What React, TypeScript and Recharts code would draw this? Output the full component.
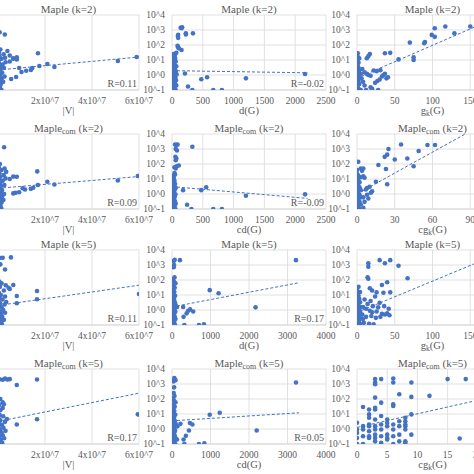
import React from "react";
import { ScatterChart, Scatter, XAxis, YAxis, CartesianGrid, ReferenceLine } from "recharts";

const BLUE = "#4472C4";
const GRID = "#d9d9d9";
const TEXT = "#595959";
const FONT = "'Liberation Serif', 'DejaVu Serif', serif";

type Pt = [number, number];

// shared log y axis
const LOG_TICKS = [0.1, 1, 10, 100, 1000, 10000];
const LOG_LABELS: Record<number, string> = {
  0.1: "10^-1",
  1: "10^0",
  10: "10^1",
  100: "10^2",
  1000: "10^3",
  10000: "10^4",
};

// x ticks (the 0 of |V| sits on the cropped edge)
const V_TICKS = [0, 2e7, 4e7, 6e7];
const V_LABELS: Record<number, string> = { 0: "", 2e7: "2x10^7", 4e7: "4x10^7", 6e7: "6x10^7" };
const D_TICKS_K2 = [0, 500, 1000, 1500, 2000, 2500];
const D_TICKS_K5 = [0, 1000, 2000, 3000, 4000];
const G_TICKS = [0, 50, 100, 150, 200];
const CG_TICKS_K2 = [0, 30, 60, 90, 120];
const CG_TICKS_K5 = [0, 5, 10, 15, 20, 25];

// ---- Maple (k=2) ----
const mapleK2V: Pt[] = [
  [1e5, 0.1], [6e5, 0.1], [1.5e6, 0.1], [3e5, 0.13], [9e5, 0.16], [2e5, 0.2], [1.2e6, 0.25], [5e5, 0.3],
  [2.2e6, 0.35], [8e5, 0.45], [1e5, 0.55], [1.6e6, 0.6], [4e5, 0.75], [2.8e6, 0.8], [1e6, 1], [2e5, 1.2],
  [1.8e6, 1.4], [6e5, 1.7], [3e5, 2.2], [1.3e6, 2.6], [2.5e6, 3], [7e5, 3.5], [1e5, 4.5], [1.9e6, 5],
  [4e5, 6], [3.2e6, 7], [2e5, 9], [1.5e6, 12], [3e6, 14], [6e5, 18], [2.4e6, 24], [4e5, 30], [5e6, 20],
  [6.5e6, 12], [8e6, 15], [4e6, 40], [1e6, 50], [7e5, 700], [2.9e6, 500], [6.5e6, 13], [8e6, 11], [5e6, 8],
  [1.7e7, 28], [1.46e7, 2.9], [1.4e7, 2.15], [1.2e7, 1.9], [1e7, 1.6], [9e6, 2.9], [1.76e7, 4],
  [2.1e7, 5.4], [2.4e7, 3.4], [7.7e6, 0.74], [5.6e6, 0.54], [5.1e7, 8.5], [5.9e7, 16],
];
const mapleK2D: Pt[] = [
  [5, 0.1], [30, 0.1], [60, 0.1], [15, 0.12], [45, 0.14], [10, 0.17], [70, 0.2], [25, 0.22], [50, 0.27],
  [5, 0.32], [35, 0.4], [65, 0.45], [20, 0.55], [55, 0.65], [10, 0.8], [40, 0.9], [75, 1.1], [25, 1.3],
  [5, 1.6], [60, 1.8], [30, 2.2], [15, 2.7], [50, 3.2], [70, 3.8], [20, 4.5], [40, 5.5], [10, 7], [60, 8],
  [30, 10], [50, 13], [15, 16], [45, 20], [25, 25], [70, 30], [155, 1300], [165, 1500], [140, 1400],
  [100, 470], [95, 400], [100, 300], [225, 600], [225, 500], [340, 600], [155, 46], [100, 70], [110, 60],
  [90, 90], [210, 1.27], [260, 0.17], [330, 0.1], [475, 0.52], [570, 0.7], [670, 0.1], [810, 0.1],
  [1200, 0.6], [2160, 1.17],
];
const mapleK2G: Pt[] = [
  [0, 0.1], [1, 0.1], [2, 0.12], [0, 0.15], [1, 0.2], [3, 0.25], [0, 0.3], [2, 0.4], [1, 0.5], [0, 0.6],
  [3, 0.7], [1, 0.9], [2, 1.1], [0, 1.3], [1, 1.7], [3, 2], [0, 2.5], [2, 3], [1, 4], [0, 5], [2, 6.5],
  [1, 8], [0, 10], [3, 13], [1, 16], [0, 20], [1, 28], [13, 13], [17, 25], [15, 18], [37, 28], [44, 30],
  [10, 1.5], [13, 1.2], [15, 1.0], [18, 0.9], [22, 2], [26, 1.8], [31, 2.1], [33, 0.8], [35, 1], [37, 1.2],
  [39, 0.6], [41, 0.7], [10, 0.2], [18, 0.15], [24, 0.3], [27, 0.4], [30, 0.5], [8, 0.35], [6, 0.6],
  [5, 1.2], [7, 2.5], [5, 0.1], [12, 0.1], [20, 0.12], [28, 0.1], [55, 11], [70, 145], [75, 10], [75, 15],
  [90, 160], [89, 130], [99, 470], [103, 350], [103, 1300], [117, 1700], [129, 600], [150, 1700],
];

// ---- Maple_com (k=2) ----
const comK2V: Pt[] = [
  [1e5, 0.1], [7e5, 0.1], [1.4e6, 0.11], [3e5, 0.13], [1e6, 0.17], [2e5, 0.22], [1.5e6, 0.27], [5e5, 0.33],
  [2.3e6, 0.4], [9e5, 0.5], [1e5, 0.6], [1.8e6, 0.7], [4e5, 0.85], [2.6e6, 1], [1.1e6, 1.2], [2e5, 1.5],
  [1.7e6, 1.8], [6e5, 2.2], [3e5, 2.8], [1.3e6, 3.4], [2.7e6, 4], [8e5, 5], [1e5, 6], [2e6, 7.5], [5e5, 9],
  [3.2e6, 11], [1e6, 14], [2.4e6, 18], [6e5, 24], [3.5e6, 30], [1.5e6, 40], [4e5, 55], [2.8e6, 50],
  [8e5, 100], [2.6e6, 1300], [6.5e6, 14.5], [8e6, 14], [5e6, 10], [1.67e7, 32], [1.4e7, 2.2], [1.5e7, 2.6],
  [1.15e7, 2], [1.05e7, 2.4], [9e6, 1.3], [7.5e6, 1.2], [6.5e6, 1.1], [2.1e7, 6.6], [2.4e7, 4.3],
  [1.7e7, 4], [5.1e7, 7.9], [5.95e7, 16],
];
const comK2D: Pt[] = [
  [5, 0.1], [25, 0.1], [55, 0.1], [10, 0.12], [40, 0.15], [15, 0.18], [60, 0.22], [30, 0.26], [50, 0.3],
  [5, 0.36], [35, 0.45], [20, 0.55], [45, 0.65], [10, 0.8], [55, 0.95], [25, 1.1], [5, 1.4], [40, 1.7],
  [15, 2.1], [60, 2.5], [30, 3], [10, 3.8], [50, 4.6], [20, 6], [40, 7.5], [5, 9], [30, 12], [15, 16],
  [50, 20], [50, 2000], [90, 2000], [70, 1800], [60, 1000], [80, 800], [55, 300], [70, 230], [60, 180],
  [330, 1400], [40, 60], [60, 50], [75, 70], [110, 80], [40, 25], [180, 1.8], [475, 1.8], [555, 2.8],
  [1200, 0.77], [2160, 0.95], [245, 0.19], [315, 0.1], [670, 0.1], [810, 0.1],
];
const comK2CG: Pt[] = [
  [0, 0.1], [1, 0.1], [2, 0.1], [0, 0.13], [1, 0.16], [3, 0.2], [0, 0.25], [2, 0.3], [1, 0.4], [0, 0.5],
  [3, 0.6], [1, 0.75], [2, 0.9], [0, 1.1], [1, 1.4], [3, 1.8], [0, 2.2], [2, 2.8], [1, 3.5], [0, 4.5],
  [2, 6], [1, 8], [0, 10], [3, 13], [1, 17], [0, 22], [1, 140], [3, 50], [5, 50], [4, 35], [0, 40],
  [5, 15], [6, 12], [8, 2.5], [7, 2], [10, 3], [15, 6.6], [12, 1.5], [11, 1.2], [8, 0.9], [5, 0.6],
  [5, 0.12], [6, 0.3], [9, 0.5], [17, 85], [23, 46], [22, 300], [24, 420], [25, 1000], [24, 4.5],
  [35, 2000], [30, 200], [40, 230], [45, 70], [49, 740], [56, 1860], [62, 1860],
];

// ---- Maple (k=5) ----
const mapleK5V: Pt[] = [
  [1e5, 0.1], [8e5, 0.1], [1.6e6, 0.12], [3e5, 0.14], [1.1e6, 0.18], [2.5e6, 0.22], [5e5, 0.28],
  [1.8e6, 0.35], [2e5, 0.45], [1.3e6, 0.55], [3e6, 0.65], [7e5, 0.8], [2.2e6, 1], [1e5, 1.2], [1.5e6, 1.5],
  [4e5, 1.9], [2.8e6, 2.3], [9e5, 2.8], [3.5e6, 3.4], [2e5, 4.2], [1.9e6, 5], [6e5, 6.5], [3e6, 8],
  [1.2e6, 10], [4e5, 14], [2.5e6, 20], [5e6, 25], [8e5, 35], [3.3e6, 45], [1.5e6, 60], [5e5, 80],
  [7e5, 3000], [2e6, 3000], [5.5e6, 3200], [1e6, 1100], [3e6, 500], [1.66e7, 18.5], [1.66e7, 5.2],
  [8e6, 8.5], [8e6, 2.8], [6e7, 11.7], [6.5e6, 46], [4.5e6, 30],
];
const mapleK5D: Pt[] = [
  [5, 0.1], [40, 0.1], [80, 0.1], [20, 0.13], [60, 0.16], [10, 0.2], [90, 0.25], [35, 0.3], [70, 0.38],
  [15, 0.48], [50, 0.6], [85, 0.75], [25, 0.9], [65, 1.1], [5, 1.4], [45, 1.7], [95, 2.1], [30, 2.6],
  [75, 3.3], [10, 4.2], [55, 5.5], [20, 7], [80, 9], [40, 12], [60, 16], [15, 22], [70, 30], [35, 45],
  [90, 60], [50, 80], [25, 110], [65, 150], [45, 700], [55, 1000], [40, 1800], [70, 2200], [206, 2100],
  [3220, 2100], [980, 21], [1210, 13], [2170, 1.5], [130, 1.6], [290, 1.6], [420, 0.9], [300, 0.35],
  [380, 0.6], [470, 1.1], [550, 0.8], [320, 0.1], [700, 0.1], [830, 0.11],
];
const mapleK5G: Pt[] = [
  [0, 0.1], [2, 0.1], [4, 0.12], [1, 0.15], [3, 0.2], [0, 0.25], [5, 0.3], [2, 0.4], [1, 0.5], [4, 0.65],
  [0, 0.8], [3, 1], [1, 1.3], [5, 1.6], [2, 2], [0, 2.6], [4, 3.3], [1, 4.2], [3, 5.5], [0, 7], [2, 9],
  [1, 12], [4, 16], [0, 22], [2, 35], [15, 1300], [15, 770], [14, 150], [15, 120], [17, 28], [20, 20],
  [24, 8], [30, 2100], [37, 1300], [44, 2100], [55, 900], [67, 130], [33, 46], [40, 70], [26, 15],
  [35, 14], [44, 15], [8, 1.6], [12, 1.2], [17, 0.9], [20, 0.7], [26, 0.8], [33, 0.55], [40, 0.6],
  [7, 0.5], [12, 0.35], [19, 0.4], [25, 0.3], [31, 0.35], [37, 0.5], [43, 0.45], [9, 0.14], [16, 0.12],
  [22, 0.11], [14, 2.5], [21, 1.8], [28, 1.5], [36, 1.8], [42, 1.2], [10, 5], [18, 4], [30, 3],
  [8, 0.25], [4, 0.8],
];

// ---- Maple_com (k=5) ----
const comK5V: Pt[] = [
  [7e5, 2100], [2e6, 1900], [4e6, 2000], [3e6, 2300], [5e6, 2100], [8e6, 850], [1.66e7, 2000],
  [1e6, 100], [2e6, 60], [5e5, 40], [2.5e6, 45], [2e6, 25], [1e6, 18], [1e5, 0.1], [9e5, 0.1],
  [1.8e6, 0.12], [4e5, 0.15], [1.2e6, 0.19], [2.6e6, 0.24], [6e5, 0.3], [2e6, 0.38], [2e5, 0.48],
  [1.5e6, 0.6], [3.2e6, 0.75], [8e5, 0.95], [2.3e6, 1.2], [1e5, 1.5], [1.7e6, 1.9], [4e5, 2.4], [3e6, 3],
  [1e6, 3.8], [3.8e6, 4.6], [2e5, 5.5], [2.2e6, 7], [7e5, 9], [8e6, 2], [1.66e7, 4.5], [5.95e7, 9.5],
];
const comK5D: Pt[] = [
  [5, 0.1], [45, 0.1], [85, 0.1], [20, 0.13], [65, 0.16], [10, 0.2], [90, 0.25], [35, 0.3], [70, 0.38],
  [15, 0.48], [55, 0.6], [80, 0.75], [25, 0.9], [60, 1.1], [5, 1.4], [45, 1.7], [95, 2.2], [30, 2.7],
  [75, 3.4], [10, 4.3], [55, 5.6], [20, 7], [85, 9], [40, 12], [60, 16], [15, 22], [70, 30], [35, 45],
  [90, 60], [50, 80], [25, 110], [65, 160], [45, 250], [55, 600], [40, 1500], [70, 2000], [60, 2500],
  [90, 1800], [3220, 1260], [980, 9], [1240, 12], [2200, 0.8], [465, 2.5], [530, 2], [440, 0.8],
  [360, 0.35], [300, 0.2], [130, 0.2], [320, 0.1], [700, 0.1], [840, 0.11], [220, 2.2], [140, 1.5],
];
const comK5CG: Pt[] = [
  [0, 2.6], [0, 0.92], [0, 0.55], [0, 0.25], [0, 0.1],
  [1, 29], [1, 1.55], [1, 0.92], [1, 0.33], [1, 0.1],
  [2, 20], [2, 9.4], [2, 5.6], [2, 2.0], [2, 1.55], [2, 0.71], [2, 0.33], [2, 0.25],
  [3, 2120], [3, 1260], [3, 980], [3, 124], [3, 26], [3, 20], [3, 4.3], [3, 1.55], [3, 0.92], [3, 0.42],
  [3, 0.25], [3, 0.15],
  [4, 2120], [4, 57], [4, 7.3], [4, 2.0], [4, 0.92], [4, 0.33], [4, 0.12],
  [5, 4.3], [5, 2.6], [5, 1.55], [5, 0.42], [5, 0.25], [5, 0.2],
  [6, 2350], [6, 1260], [6, 45], [6, 34], [6, 2.0], [6, 0.92], [6, 0.33], [6, 0.1],
  [7, 209], [7, 3.3], [7, 1.55], [7, 0.42], [7, 0.15],
  [8, 5.6], [8, 3.3], [8, 2.0], [8, 1.55], [8, 0.92], [8, 0.15], [8, 0.12],
  [9, 1260], [9, 138], [9, 9.4], [9, 0.42],
  [12, 162], [15, 2120], [17, 0.23], [18, 2120],
];

// trend line end points [x0, y0, x1, y1]
const trends: Record<string, number[]> = {
  mapleK2V: [0, 2.15, 6e7, 15.8],
  mapleK2D: [0, 1.95, 2200, 1.4],
  mapleK2G: [0, 0.62, 160, 1950],
  comK2V: [0, 2.4, 6e7, 14.6],
  comK2D: [0, 3.1, 2200, 0.51],
  comK2CG: [0, 1, 86, 10000],
  mapleK5V: [0, 2, 6e7, 45],
  mapleK5D: [0, 1.6, 3300, 66],
  mapleK5G: [0, 0.69, 160, 1500],
  comK5V: [0, 3.2, 6e7, 245],
  comK5D: [0, 3.5, 3300, 12],
  comK5CG: [0, 1.27, 20, 83],
};

const rLabels: Record<string, string> = {
  mapleK2V: "R=0.11",
  mapleK2D: "R=-0.02",
  comK2V: "R=0.09",
  comK2D: "R=-0.09",
  mapleK5V: "R=0.11",
  mapleK5D: "R=0.17",
  comK5V: "R=0.17",
  comK5D: "R=0.05",
};

// layout
const ROW_TOPS = [15, 134, 250, 369];
const PLOT_H = 75;
const COLS = [
  { left: -2, w: 141 },
  { left: 172, w: 154 },
  { left: 357, w: 151 },
];
const YW = 40;
const MT = 4;
const MR = 18;
const XH = 22;

const Dot = (props: any) => <circle cx={props.cx} cy={props.cy} r={2.3} fill={BLUE} />;

function CenterText({ cx, cy, size, children }: any) {
  return (
    <div
      style={{
        position: "absolute",
        left: cx - 100,
        top: cy - 7,
        width: 200,
        height: 14,
        lineHeight: "14px",
        textAlign: "center",
        fontSize: size,
        color: TEXT,
        whiteSpace: "nowrap",
      }}
    >
      {children}
    </div>
  );
}

function Panel({ row, col, name, points, ticks, labels, title, xLabel }: any) {
  const top = ROW_TOPS[row];
  const { left, w } = COLS[col];
  const t = trends[name];
  const data = points.map(([x, y]: Pt) => ({ x, y }));
  const cx = left + w / 2;
  const r = rLabels[name];
  // the first column's y labels lie outside the cropped picture
  const yTick = col === 0 ? false : { fill: TEXT, fontSize: 9.5, fontFamily: FONT };
  return (
    <>
      <div style={{ position: "absolute", left: left - YW, top: top - MT }}>
        <ScatterChart width={YW + w + MR} height={MT + PLOT_H + XH} margin={{ top: MT, right: MR, left: 0, bottom: 0 }}>
          <CartesianGrid stroke={GRID} strokeWidth={0.8} />
          <XAxis
            type="number"
            dataKey="x"
            domain={[ticks[0], ticks[ticks.length - 1]]}
            ticks={ticks}
            interval={0}
            allowDataOverflow
            height={XH}
            axisLine={{ stroke: GRID }}
            tickLine={false}
            tickSize={5}
            tickFormatter={(v: number) => (labels ? labels[v] : String(v))}
            tick={{ fill: TEXT, fontSize: 9.5, fontFamily: FONT }}
          />
          <YAxis
            type="number"
            dataKey="y"
            scale="log"
            domain={[0.1, 10000]}
            ticks={LOG_TICKS}
            interval={0}
            allowDataOverflow
            width={YW}
            axisLine={false}
            tickLine={false}
            tickSize={5}
            tickFormatter={(v: number) => LOG_LABELS[v] ?? String(v)}
            tick={yTick}
          />
          <Scatter data={data} shape={Dot} fill={BLUE} isAnimationActive={false} />
          <ReferenceLine
            segment={[{ x: t[0], y: t[1] }, { x: t[2], y: t[3] }]}
            stroke={BLUE}
            strokeWidth={1}
            strokeDasharray="3 2"
            ifOverflow="hidden"
          />
        </ScatterChart>
      </div>
      <CenterText cx={cx} cy={top - 6} size={11}>{title}</CenterText>
      <CenterText cx={cx} cy={top + PLOT_H + 21} size={10.5}>{xLabel}</CenterText>
      {r && (
        <div
          style={{
            position: "absolute",
            left: left + w - 102,
            top: top + PLOT_H - 13,
            width: 100,
            textAlign: "right",
            fontSize: 10,
            lineHeight: "14px",
            color: TEXT,
          }}
        >
          {r}
        </div>
      )}
    </>
  );
}

const sub = (s: string) => <sub style={{ fontSize: "0.72em", verticalAlign: "-0.25em" }}>{s}</sub>;

export default function App() {
  const mk2 = <>Maple (k=2)</>;
  const ck2 = <>Maple{sub("com")} (k=2)</>;
  const mk5 = <>Maple (k=5)</>;
  const ck5 = <>Maple{sub("com")} (k=5)</>;
  return (
    <div
      style={{
        position: "fixed",
        left: 0,
        top: 0,
        width: 474,
        height: 474,
        overflow: "hidden",
        background: "#fff",
        fontFamily: FONT,
      }}
    >
      <Panel row={0} col={0} name="mapleK2V" points={mapleK2V} ticks={V_TICKS} labels={V_LABELS} title={mk2} xLabel="|V|" />
      <Panel row={0} col={1} name="mapleK2D" points={mapleK2D} ticks={D_TICKS_K2} title={mk2} xLabel="d(G)" />
      <Panel row={0} col={2} name="mapleK2G" points={mapleK2G} ticks={G_TICKS} title={mk2} xLabel={<>g{sub("k")}(G)</>} />
      <Panel row={1} col={0} name="comK2V" points={comK2V} ticks={V_TICKS} labels={V_LABELS} title={ck2} xLabel="|V|" />
      <Panel row={1} col={1} name="comK2D" points={comK2D} ticks={D_TICKS_K2} title={ck2} xLabel="cd(G)" />
      <Panel row={1} col={2} name="comK2CG" points={comK2CG} ticks={CG_TICKS_K2} title={ck2} xLabel={<>cg{sub("k")}(G)</>} />
      <Panel row={2} col={0} name="mapleK5V" points={mapleK5V} ticks={V_TICKS} labels={V_LABELS} title={mk5} xLabel="|V|" />
      <Panel row={2} col={1} name="mapleK5D" points={mapleK5D} ticks={D_TICKS_K5} title={mk5} xLabel="d(G)" />
      <Panel row={2} col={2} name="mapleK5G" points={mapleK5G} ticks={G_TICKS} title={mk5} xLabel={<>g{sub("k")}(G)</>} />
      <Panel row={3} col={0} name="comK5V" points={comK5V} ticks={V_TICKS} labels={V_LABELS} title={ck5} xLabel="|V|" />
      <Panel row={3} col={1} name="comK5D" points={comK5D} ticks={D_TICKS_K5} title={ck5} xLabel="cd(G)" />
      <Panel row={3} col={2} name="comK5CG" points={comK5CG} ticks={CG_TICKS_K5} title={ck5} xLabel={<>cg{sub("k")}(G)</>} />
    </div>
  );
}
